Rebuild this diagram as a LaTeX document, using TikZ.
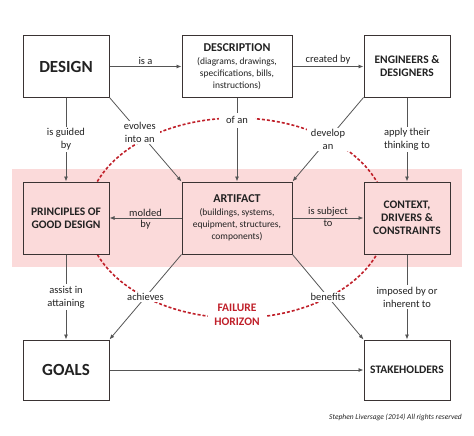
\documentclass[tikz,border=0pt]{standalone}
\usepackage{fontspec}
\setmainfont{Carlito}
\usetikzlibrary{arrows.meta}
\definecolor{bandpink}{HTML}{FBDADA}
\definecolor{failred}{HTML}{C0202A}
\definecolor{linegray}{HTML}{555555}
\definecolor{boxborder}{HTML}{3A3333}
\definecolor{txt}{HTML}{222222}
\begin{document}
\begin{tikzpicture}[x=1pt,y=-1pt,
  box/.style={draw=boxborder,line width=1pt,fill=white,inner sep=0pt,align=center,text=txt},
  pbox/.style={box,fill=bandpink},
  bigtxt/.style={font=\bfseries\fontsize{17}{20}\selectfont},
  midtxt/.style={font=\bfseries\fontsize{11.5}{13}\selectfont},
  conn/.style={draw=linegray,line width=0.8pt,-{Latex[length=5pt,width=4pt]}},
  lbl/.style={font=\fontsize{10.5}{13}\selectfont,text=txt,align=center,fill=white,inner sep=1.5pt},
  lbln/.style={font=\fontsize{10.5}{13}\selectfont,text=txt,align=center,inner sep=1.5pt},
]
\useasboundingbox (0,0) rectangle (474,436);
\fill[white] (0,0) rectangle (474,436);
% band
\fill[bandpink] (12,169) rectangle (462,267);
% failure horizon ellipse
\draw[failred,line width=1.6pt,dash pattern=on 3pt off 2pt] (237,218) ellipse [x radius=150,y radius=100];
% boxes
\node[box,bigtxt,minimum width=86pt,minimum height=61pt] (design) at (66,66.5) {DESIGN};
\node[box,minimum width=110pt,minimum height=61pt] (desc) at (237,66.5)
  {{\bfseries\fontsize{12}{14}\selectfont DESCRIPTION}\\[1pt]
   {\fontsize{9.5}{11.5}\selectfont (diagrams, drawings,}\\
   {\fontsize{9.5}{11.5}\selectfont specifications, bills,}\\
   {\fontsize{9.5}{11.5}\selectfont instructions)}};
\node[box,midtxt,minimum width=86pt,minimum height=61pt] (eng) at (407,66.5) {ENGINEERS \&\\DESIGNERS};
\node[pbox,midtxt,minimum width=86pt,minimum height=72pt] (princ) at (66,218) {PRINCIPLES OF\\GOOD DESIGN};
\node[pbox,minimum width=110pt,minimum height=72pt] (art) at (237,218)
  {{\bfseries\fontsize{12}{14}\selectfont ARTIFACT}\\[1pt]
   {\fontsize{9.5}{11.5}\selectfont (buildings, systems,}\\
   {\fontsize{9.5}{11.5}\selectfont equipment, structures,}\\
   {\fontsize{9.5}{11.5}\selectfont components)}};
\node[pbox,midtxt,minimum width=86pt,minimum height=72pt] (ctx) at (407,218) {CONTEXT,\\DRIVERS \&\\CONSTRAINTS};
\node[box,bigtxt,minimum width=86pt,minimum height=60pt] (goals) at (66,370) {GOALS};
\node[box,midtxt,minimum width=86pt,minimum height=60pt] (stake) at (407,370) {STAKEHOLDERS};
% connectors
\draw[conn] (design) -- node[lbln,above] {is a} (desc);
\draw[conn] (desc) -- node[lbln,above] {created by} (eng);
\draw[conn] (design) -- node[lbl] {is guided\\by} (princ);
\draw[conn] (design.south east) -- node[lbl,pos=0.42,inner xsep=4pt] {evolves\\into an} (art.north west);
\draw[conn] (desc) -- node[lbl,pos=0.27,inner xsep=7pt,inner ysep=4pt] {of an} (art);
\draw[conn] (eng.south west) -- node[lbl,pos=0.5,inner xsep=4pt] {develop\\an} (art.north east);
\draw[conn] (eng) -- node[lbl] {apply their\\thinking to} (ctx);
\draw[conn] (art) -- node[lbln,above] {molded} node[lbln,below] {by} (princ);
\draw[conn] (art) -- node[lbln,above] {is subject} node[lbln,below] {to} (ctx);
\draw[conn] (princ) -- node[lbl] {assist in\\attaining} (goals);
\draw[conn] (art.south west) -- node[lbl,pos=0.5,inner xsep=4pt] {achieves} (goals.north east);
\draw[conn] (art.south east) -- node[lbl,pos=0.5,inner xsep=4pt] {benefits} (stake.north west);
\draw[conn] (ctx) -- node[lbl] {imposed by or\\inherent to} (stake);
\draw[conn] (goals) -- (stake);
% failure horizon label
\node[font=\bfseries\fontsize{11.5}{14}\selectfont,text=failred,align=center,fill=white,inner xsep=6pt,inner ysep=2pt] (fh) at (237,315) {FAILURE\\HORIZON};
% credit
\node[font=\itshape\fontsize{7.5}{9}\selectfont,text=txt,anchor=east,inner sep=0pt] (credit) at (462,417) {Stephen Liversage (2014) All rights reserved};
\end{tikzpicture}
\end{document}
